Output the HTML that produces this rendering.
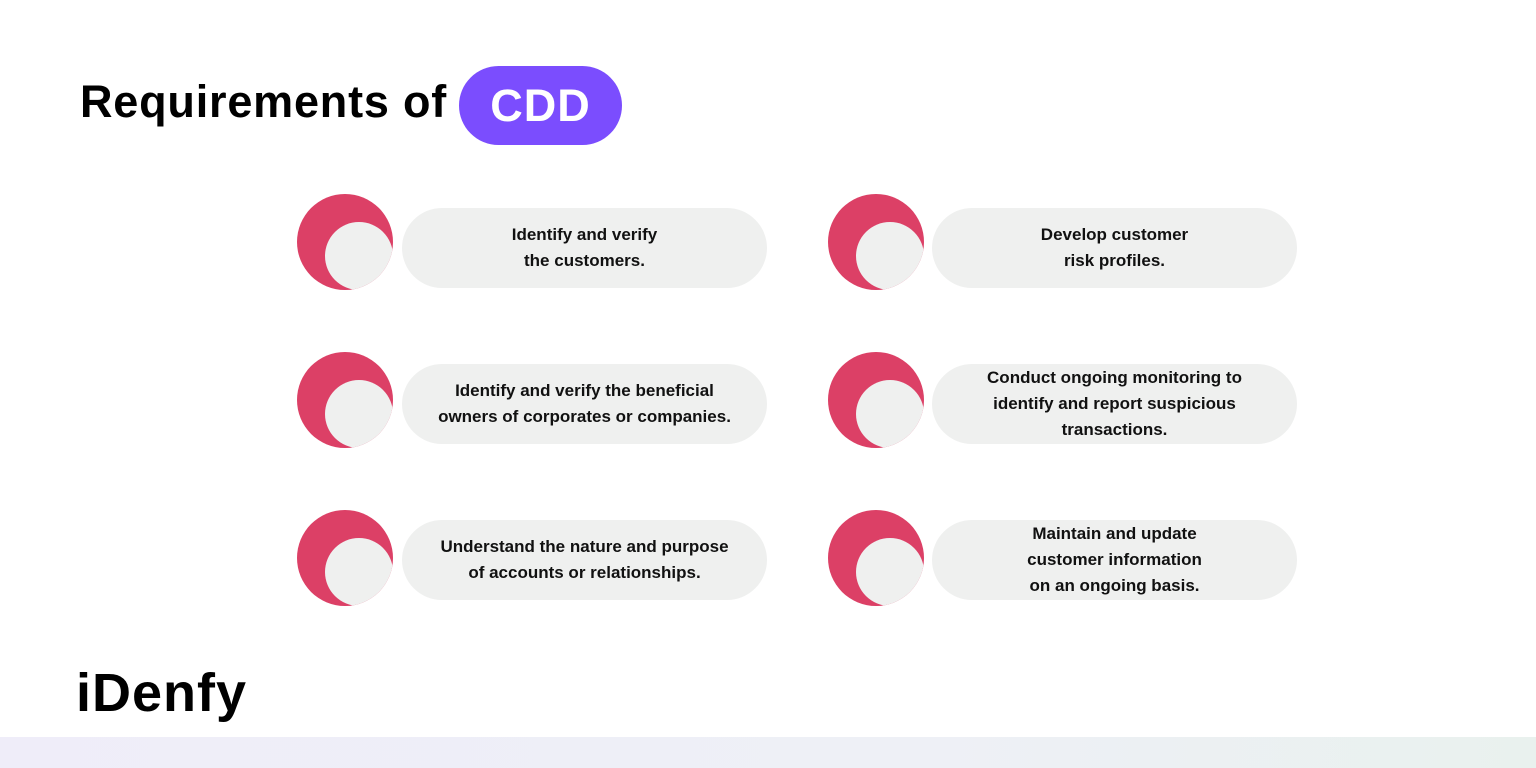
<!DOCTYPE html>
<html><head><style>
body{margin:0;width:1536px;height:768px;background:#fff;position:relative;overflow:hidden;font-family:"Liberation Sans",sans-serif}
.t{position:absolute;left:80px;top:76px;font-size:45px;font-weight:bold;color:#000;letter-spacing:0.8px}
.cdd{position:absolute;left:459px;top:66px;width:163px;height:79px;border-radius:40px;background:#7b4dfe;color:#fff;font-size:45px;font-weight:bold;text-align:center;line-height:79px;letter-spacing:1px}
.c{position:absolute;width:96px;height:96px;border-radius:50%;background:#dc4066;overflow:hidden}
.c::after{content:"";position:absolute;left:28px;top:28px;width:68px;height:68px;border-radius:50%;background:#eff0ef}
.p{position:absolute;width:365px;height:80px;border-radius:40px;background:#eff0ef;display:flex;align-items:center;justify-content:center;text-align:center;font-size:17px;font-weight:bold;line-height:26px;color:#111}
.logo{position:absolute;left:76px;top:662px;font-size:54px;font-weight:bold;color:#000;letter-spacing:1px}
.strip{position:absolute;left:0;top:737px;width:1536px;height:31px;background:linear-gradient(90deg,#efedf9,#eef0f6 60%,#e9f1ee)}
</style></head><body>
<div class="t">Requirements of</div>
<div class="cdd">CDD</div>

<div class="c" style="left:297px;top:194px"></div>
<div class="p" style="left:402px;top:208px">Identify and verify<br>the customers.</div>
<div class="c" style="left:828px;top:194px"></div>
<div class="p" style="left:932px;top:208px">Develop customer<br>risk profiles.</div>

<div class="c" style="left:297px;top:352px"></div>
<div class="p" style="left:402px;top:364px">Identify and verify the beneficial<br>owners of corporates or companies.</div>
<div class="c" style="left:828px;top:352px"></div>
<div class="p" style="left:932px;top:364px">Conduct ongoing monitoring to<br>identify and report suspicious<br>transactions.</div>

<div class="c" style="left:297px;top:510px"></div>
<div class="p" style="left:402px;top:520px">Understand the nature and purpose<br>of accounts or relationships.</div>
<div class="c" style="left:828px;top:510px"></div>
<div class="p" style="left:932px;top:520px">Maintain and update<br>customer information<br>on an ongoing basis.</div>

<div class="logo">iDenfy</div>
<div class="strip"></div>
</body></html>
